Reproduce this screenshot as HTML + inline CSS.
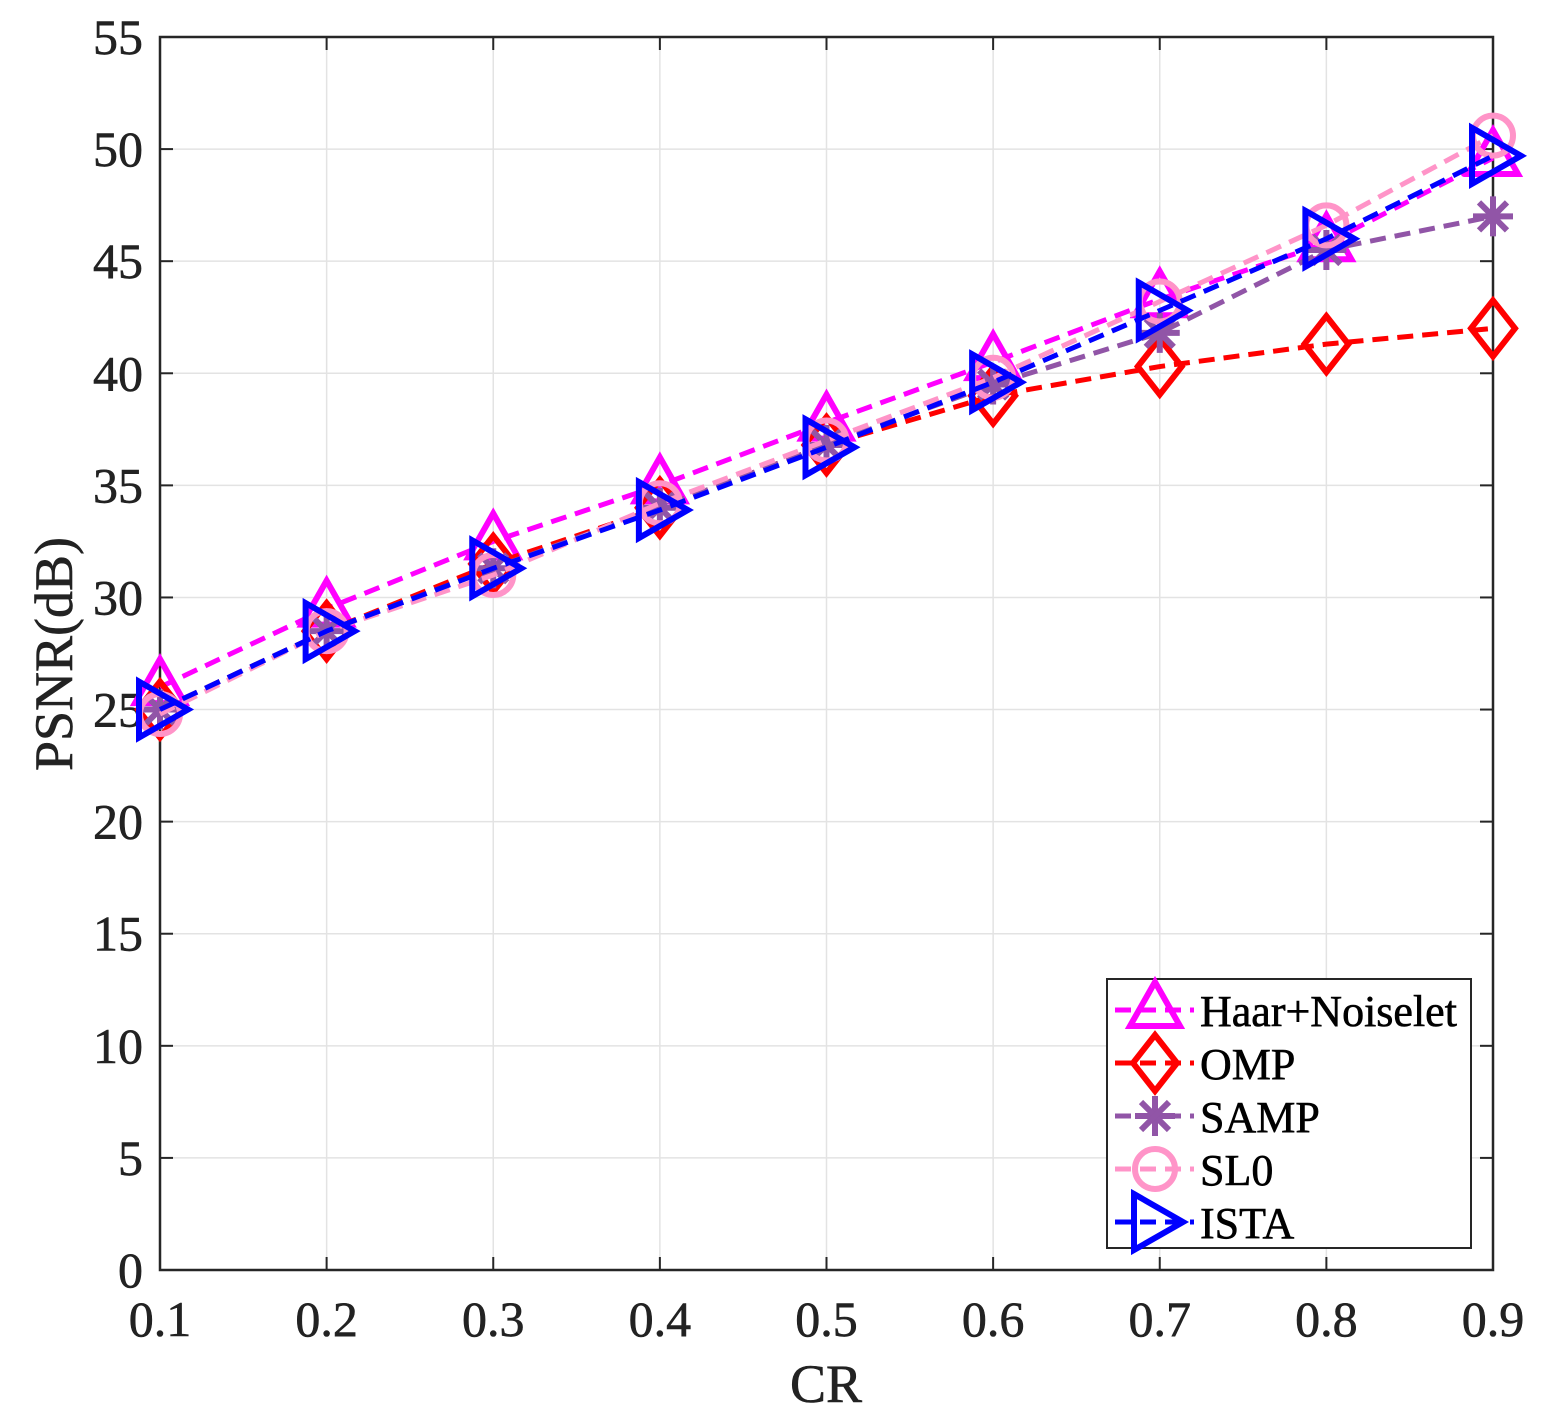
<!DOCTYPE html><html><head><style>body{margin:0;background:#fff}svg{display:block}text{font-family:"Liberation Serif",serif;fill:#222}</style></head><body>
<svg id="s" width="1541" height="1424" xmlns="http://www.w3.org/2000/svg"></svg>
<script>
const s=document.getElementById('s');let h='';
const X=v=>160+(v-0.1)/0.8*1333, Y=v=>1270-v*(1233/55);
h+='<rect x="160" y="37" width="1333" height="1233" fill="#fff"/>';
for(let i=1;i<=9;i++){const x=X(i/10);h+=`<line x1="${x}" y1="37" x2="${x}" y2="1270" stroke="#e3e3e3" stroke-width="1.5"/>`;h+=`<text x="${x}" y="1336" font-size="50" text-anchor="middle" stroke="#222" stroke-width="0.6">0.${i}</text>`;
h+=`<line x1="${x}" y1="1270" x2="${x}" y2="1257" stroke="#262626" stroke-width="2"/><line x1="${x}" y1="37" x2="${x}" y2="50" stroke="#262626" stroke-width="2"/>`;}
for(let v=0;v<=55;v+=5){const y=Y(v);h+=`<line x1="160" y1="${y}" x2="1493" y2="${y}" stroke="#e3e3e3" stroke-width="1.5"/>`;h+=`<text x="143" y="${y+17}" font-size="50" text-anchor="end" stroke="#222" stroke-width="0.6">${v}</text>`;
h+=`<line x1="160" y1="${y}" x2="173" y2="${y}" stroke="#262626" stroke-width="2"/><line x1="1493" y1="${y}" x2="1480" y2="${y}" stroke="#262626" stroke-width="2"/>`;}
h+='<rect x="160" y="37" width="1333" height="1233" fill="none" stroke="#262626" stroke-width="2.5"/>';
h+='<text x="826" y="1402" font-size="54" text-anchor="middle" stroke="#222" stroke-width="0.6">CR</text>';
h+='<text transform="translate(72,654) rotate(-90)" font-size="54" text-anchor="middle" stroke="#222" stroke-width="0.6">PSNR(dB)</text>';
const S=[
['Haar+Noiselet','#ff00ff','tri',[26,29.5,32.5,35,37.8,40.5,43.3,45.8,49.6]],
['OMP','#ff0000','dia',[25,28.5,31.5,34,36.8,39,40.3,41.3,42]],
['SAMP','#9155a7','ast',[25,28.5,31.3,34,36.8,39.5,41.8,45.5,47]],
['SL0','#ff94c8','cir',[24.8,28.5,31,34.2,37,39.8,43.2,46.6,50.6]],
['ISTA','#0000ff','rt',[25,28.5,31.3,33.9,36.7,39.6,42.8,46,49.7]]];
function mk(t,x,y,c){const a=`fill="none" stroke="${c}" stroke-width="6"`;
if(t=='tri')return `<polygon points="${x},${y-28} ${x-25},${y+16} ${x+25},${y+16}" ${a}/>`;
if(t=='dia')return `<polygon points="${x},${y-28} ${x+22},${y} ${x},${y+28} ${x-22},${y}" ${a}/>`;
if(t=='cir')return `<circle cx="${x}" cy="${y}" r="20" ${a}/>`;
if(t=='rt')return `<polygon points="${x-21},${y-28} ${x+28},${y} ${x-21},${y+28}" ${a}/>`;
let r='';for(const [dx,dy] of [[0,20],[20,0],[14,14],[14,-14]])r+=`<line x1="${x-dx}" y1="${y-dy}" x2="${x+dx}" y2="${y+dy}" stroke="${c}" stroke-width="6"/>`;return r;}
for(const [n,c,t,d] of S){let p=d.map((v,i)=>X((i+1)/10)+','+Y(v)).join(' ');
h+=`<polyline points="${p}" fill="none" stroke="${c}" stroke-width="5" stroke-dasharray="16,9"/>`;
d.forEach((v,i)=>h+=mk(t,X((i+1)/10),Y(v),c));}
h+='<rect x="1107" y="979" width="364" height="269" fill="#fff" stroke="#262626" stroke-width="2"/>';
S.forEach(([n,c,t],i)=>{const y=1010+i*53;h+=`<line x1="1115" y1="${y}" x2="1194" y2="${y}" stroke="${c}" stroke-width="5" stroke-dasharray="16,9"/>`;h+=mk(t,1155,y,c);h+=`<text x="1200" y="${y+16}" font-size="44" style="fill:#000" stroke="#000" stroke-width="0.6">${n}</text>`;});
s.innerHTML=h;
</script></body></html>
